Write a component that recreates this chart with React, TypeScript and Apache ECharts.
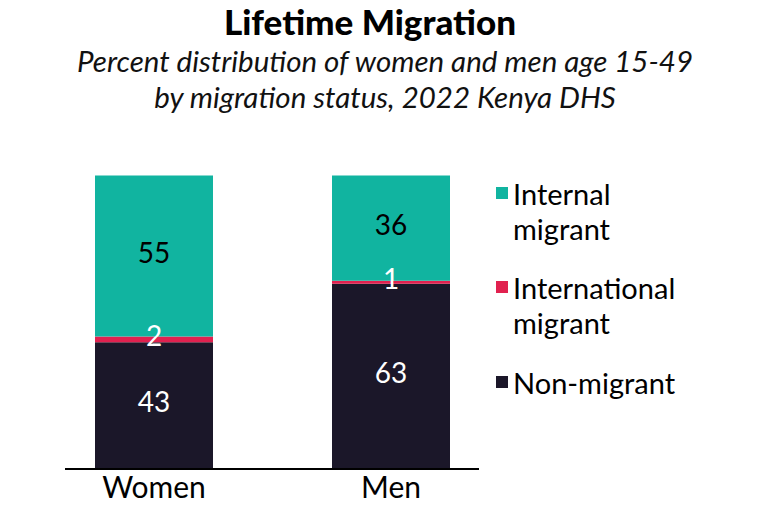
import React, { useEffect, useRef } from "react";
import * as echarts from "echarts";

const categories = ["Women", "Men"];
const nonMigrant = [43, 63];
const international = [2, 1];
const internal = [55, 36];
const seriesNames = ["Internal migrant", "International migrant", "Non-migrant"];
const legendLabels = ["\nInternal\nmigrant", "\nInternational\nmigrant", "Non-migrant"];
const titleText = "Lifetime Migration";
const subtitleText = "Percent distribution of women and men age 15-49\nby migration status, 2022 Kenya DHS";

const COLORS = { internal: "#11b4a0", international: "#e1214f", non: "#1b1729" };
const FONT = "Lato, 'Open Sans', sans-serif";

export default function App() {
  const ref = useRef<HTMLDivElement>(null);
  useEffect(() => {
    if (!ref.current) return;
    const chart = echarts.init(ref.current, undefined, { renderer: "svg" });
    const legendTops = [140.5, 234.5, 364.5];
    const label = (color: string) => ({
      show: true,
      position: "inside",
      offset: [0, -4],
      color,
      fontFamily: FONT,
      fontSize: 28,
    });
    chart.setOption({
      animation: false,
      backgroundColor: "#ffffff",
      title: [
        {
          text: titleText,
          left: 370,
          top: 0,
          textAlign: "center",
          padding: 0,
          textStyle: { fontFamily: FONT, fontSize: 35, fontWeight: 900, color: "#000", lineHeight: 42 },
        },
        {
          text: subtitleText,
          left: 385,
          top: 42,
          textAlign: "center",
          padding: 0,
          textStyle: { fontFamily: FONT, fontSize: 29.5, fontStyle: "italic", fontWeight: "normal", color: "#111", lineHeight: 36 },
        },
      ],
      grid: { left: 35.5, top: 175.5, width: 474, height: 292.5, containLabel: false },
      xAxis: {
        type: "category",
        data: categories,
        axisLine: { show: false },
        axisTick: { show: false },
        axisLabel: { fontFamily: FONT, fontSize: 30, color: "#000", margin: 0, lineHeight: 36 },
      },
      yAxis: { type: "value", min: 0, max: 100, show: false },
      legend: [0, 1, 2].map((i) => ({
        data: [seriesNames[i]],
        left: 496,
        top: legendTops[i],
        orient: "vertical",
        itemWidth: 12,
        itemHeight: 12,
        padding: 0,
        icon: "rect",
        selectedMode: false,
        formatter: () => legendLabels[i],
        textStyle: {
          fontFamily: FONT,
          fontSize: 29,
          color: "#000",
          lineHeight: 35,
        },
      })),
      graphic: [
        {
          type: "line",
          shape: { x1: 65, y1: 469, x2: 479, y2: 469 },
          style: { stroke: "#000", lineWidth: 2 },
        },
      ],
      series: [
        {
          name: seriesNames[2],
          type: "bar",
          stack: "total",
          barWidth: 118,
          data: nonMigrant,
          itemStyle: { color: COLORS.non },
          label: label("#ffffff"),
        },
        {
          name: seriesNames[1],
          type: "bar",
          stack: "total",
          barWidth: 118,
          data: international,
          itemStyle: { color: COLORS.international },
          label: label("#ffffff"),
        },
        {
          name: seriesNames[0],
          type: "bar",
          stack: "total",
          barWidth: 118,
          data: internal,
          itemStyle: { color: COLORS.internal },
          label: label("#000000"),
        },
      ],
    });
    return () => chart.dispose();
  }, []);
  return (
    <div
      ref={ref}
      style={{ position: "absolute", left: 0, top: 0, width: 768, height: 513 }}
    />
  );
}
